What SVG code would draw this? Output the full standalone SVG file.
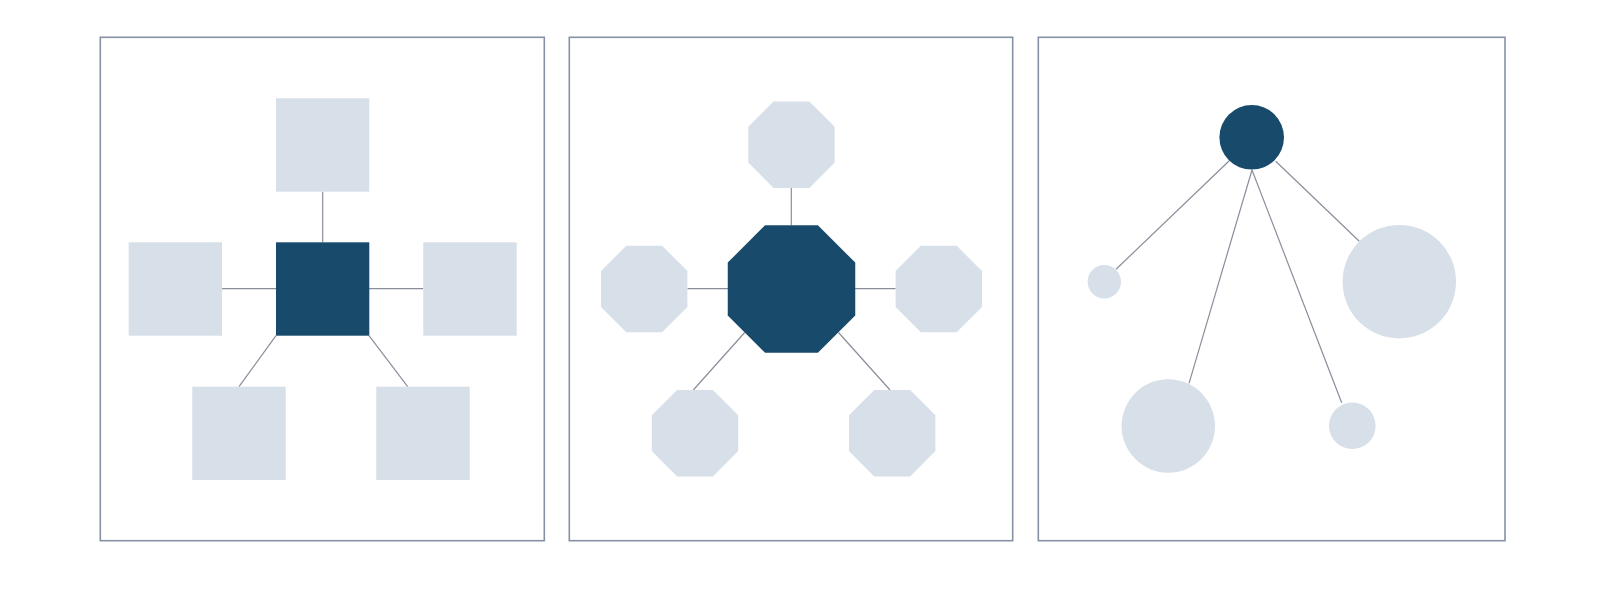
<svg xmlns="http://www.w3.org/2000/svg" width="1600" height="593" viewBox="0 0 1600 593">
<style>
.frame{fill:#ffffff;stroke:#8592a6;stroke-width:1.6}
.hub{fill:#184a6c}
.leaf{fill:#d7dfe9}
.conn line{stroke:#8a8e9b;stroke-width:1.2}
</style>
<rect width="1600" height="593" fill="#ffffff"/>
<g id="frames">
<rect class="frame" x="100.3" y="37.3" width="444" height="503.4"/>
<rect class="frame" x="569.3" y="37.3" width="443.4" height="503.4"/>
<rect class="frame" x="1038.3" y="37.3" width="466.7" height="503.4"/>
</g>
<g id="connectors" class="conn">
<line x1="322.7" y1="191.7" x2="322.7" y2="242.3"/>
<line x1="222" y1="288.7" x2="276" y2="288.7"/>
<line x1="369" y1="288.7" x2="423.3" y2="288.7"/>
<line x1="276" y1="335.7" x2="239" y2="386.7"/>
<line x1="369" y1="335.7" x2="407.7" y2="386.7"/>
<line x1="791.3" y1="188" x2="791.3" y2="225.3"/>
<line x1="687.4" y1="288.7" x2="728" y2="288.7"/>
<line x1="855" y1="288.7" x2="895.7" y2="288.7"/>
<line x1="744.7" y1="332.5" x2="693.3" y2="390"/>
<line x1="838.5" y1="332.5" x2="890" y2="390"/>
<line x1="1229" y1="161" x2="1116" y2="269.3"/>
<line x1="1275.7" y1="161.3" x2="1359.3" y2="241.3"/>
<line x1="1252" y1="170" x2="1189" y2="383.3"/>
<line x1="1252" y1="170" x2="1341.7" y2="402.7"/>
</g>
<g id="p1-hub"><rect class="hub" x="276" y="242.3" width="93.3" height="93.4"/></g>
<g id="p1-top"><rect class="leaf" x="276" y="98.3" width="93.3" height="93.4"/></g>
<g id="p1-left"><rect class="leaf" x="128.7" y="242.3" width="93.3" height="93.4"/></g>
<g id="p1-right"><rect class="leaf" x="423.3" y="242.3" width="93.4" height="93.4"/></g>
<g id="p1-bl"><rect class="leaf" x="192.3" y="386.7" width="93.4" height="93.3"/></g>
<g id="p1-br"><rect class="leaf" x="376.3" y="386.7" width="93.4" height="93.3"/></g>
<g id="p2-hub"><polygon class="hub" points="765.1,225.25 817.9,225.25 855.25,262.6 855.25,315.4 817.9,352.75 765.1,352.75 727.75,315.4 727.75,262.6"/></g>
<g id="p2-top"><polygon class="leaf" points="773.6,101.5 809.4,101.5 834.7,126.8 834.7,162.6 809.4,187.9 773.6,187.9 748.3,162.6 748.3,126.8"/></g>
<g id="p2-left"><polygon class="leaf" points="626.3,245.8 662.1,245.8 687.4,271.1 687.4,306.9 662.1,332.2 626.3,332.2 601,306.9 601,271.1"/></g>
<g id="p2-right"><polygon class="leaf" points="920.9,245.8 956.7,245.8 982,271.1 982,306.9 956.7,332.2 920.9,332.2 895.6,306.9 895.6,271.1"/></g>
<g id="p2-bl"><polygon class="leaf" points="677.1,390 712.9,390 738.2,415.3 738.2,451.1 712.9,476.4 677.1,476.4 651.8,451.1 651.8,415.3"/></g>
<g id="p2-br"><polygon class="leaf" points="874.3,390 910.1,390 935.4,415.3 935.4,451.1 910.1,476.4 874.3,476.4 849,451.1 849,415.3"/></g>
<g id="p3-hub"><circle class="hub" cx="1251.7" cy="137.3" r="32.3"/></g>
<g id="p3-left"><circle class="leaf" cx="1104.3" cy="281.7" r="16.7"/></g>
<g id="p3-right"><circle class="leaf" cx="1399.3" cy="281.7" r="56.7"/></g>
<g id="p3-bl"><circle class="leaf" cx="1168.3" cy="426" r="46.7"/></g>
<g id="p3-br"><circle class="leaf" cx="1352.3" cy="425.8" r="23.3"/></g>
</svg>
